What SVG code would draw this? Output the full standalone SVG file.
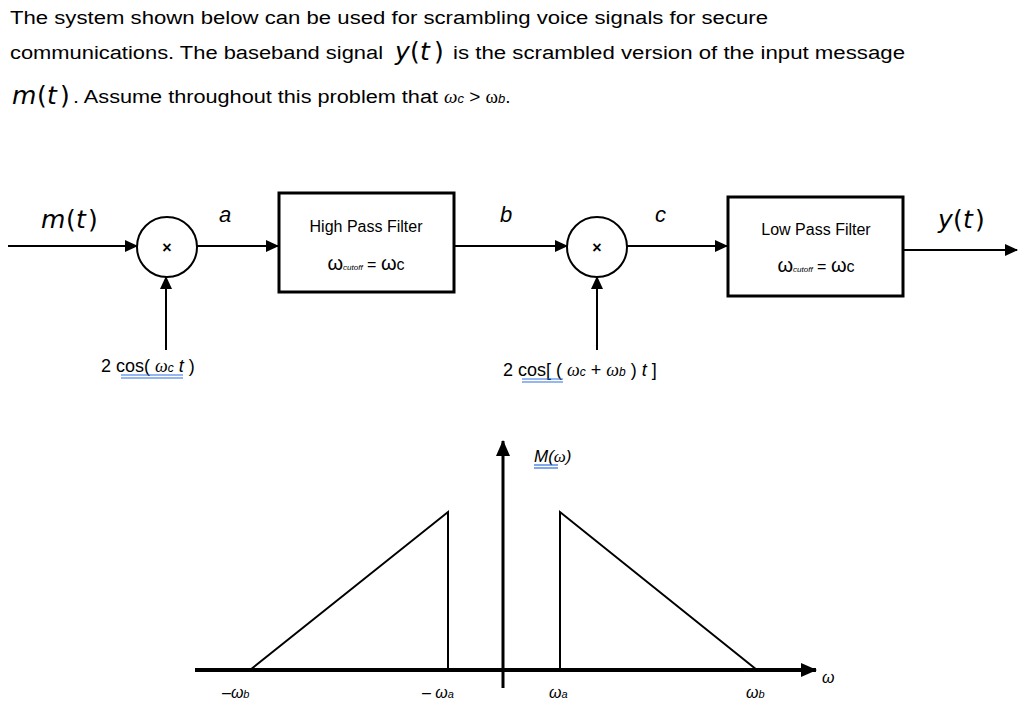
<svg xmlns="http://www.w3.org/2000/svg" width="1024" height="714" viewBox="0 0 1024 714">
<style>
.t{font-family:"Liberation Sans",Arial,sans-serif;fill:#000}
.ln{stroke:#000;stroke-width:2;fill:none}
.box{stroke:#000;stroke-width:3;fill:#fff}
.ul{stroke:#2f6fe0;stroke-width:1.2}
.mt{font-family:"DejaVu Sans","Liberation Sans",sans-serif;font-size:25px;fill:#000}
</style>
<defs><marker id="ah" markerWidth="13" markerHeight="12" refX="12" refY="6" orient="auto" markerUnits="userSpaceOnUse"><path d="M0,0 L13,6 L0,12 z"/></marker>
<marker id="ah2" markerWidth="16" markerHeight="14" refX="15" refY="7" orient="auto" markerUnits="userSpaceOnUse"><path d="M0,0 L16,7 L0,14 z"/></marker></defs>
<text class="t" x="10" y="24" font-size="18" textLength="758" lengthAdjust="spacingAndGlyphs">The system shown below can be used for scrambling voice signals for secure</text>
<text class="t" x="10" y="59" font-size="18" textLength="373" lengthAdjust="spacingAndGlyphs">communications. The baseband signal</text>
<text class="mt" x="395" y="60" font-style="italic">y</text><text class="mt" x="410" y="60">(</text><text class="mt" x="420" y="60" font-style="italic">t</text><text class="mt" x="434" y="60">)</text>
<text class="t" x="453" y="59" font-size="18" textLength="452" lengthAdjust="spacingAndGlyphs">is the scrambled version of the input message</text>
<text class="mt" x="12" y="104" font-style="italic">m</text><text class="mt" x="37" y="104">(</text><text class="mt" x="47" y="104" font-style="italic">t</text><text class="mt" x="60" y="104">)</text>
<text class="t" x="73" y="103" font-size="18" textLength="365" lengthAdjust="spacingAndGlyphs">. Assume throughout this problem that</text>
<text class="t" x="444" y="103" font-size="19"><tspan font-family="Liberation Serif" font-style="italic">ω</tspan><tspan font-size="13" font-style="italic">c</tspan> &gt; <tspan font-family="Liberation Serif">ω</tspan><tspan font-size="13" font-style="italic">b</tspan>.</text>
<g id="connectors">
<line class="ln" x1="8" y1="246" x2="137" y2="246" marker-end="url(#ah)"/>
<line class="ln" x1="197" y1="246" x2="278" y2="246" marker-end="url(#ah)"/>
<line class="ln" x1="166" y1="350" x2="166" y2="277" marker-end="url(#ah)"/>
<line class="ln" x1="454" y1="246" x2="567" y2="246" marker-end="url(#ah)"/>
<line class="ln" x1="627" y1="246" x2="727" y2="246" marker-end="url(#ah)"/>
<line class="ln" x1="597" y1="350" x2="597" y2="277" marker-end="url(#ah)"/>
<line class="ln" x1="904" y1="250" x2="1017" y2="250" marker-end="url(#ah)"/>
</g>
<g id="labels">
<text class="mt" x="41" y="228" font-style="italic">m</text><text class="mt" x="66" y="228">(</text><text class="mt" x="76" y="228" font-style="italic">t</text><text class="mt" x="88" y="228">)</text>
<text class="t" x="219" y="222" font-size="22" font-style="italic">a</text>
<text class="t" x="500" y="222" font-size="22" font-style="italic">b</text>
<text class="t" x="655" y="222" font-size="22" font-style="italic">c</text>
<text class="mt" x="938" y="228" font-style="italic">y</text><text class="mt" x="953" y="228">(</text><text class="mt" x="963" y="228" font-style="italic">t</text><text class="mt" x="975" y="228">)</text>
<text class="t" x="101" y="372" font-size="18">2 cos( <tspan font-family="Liberation Serif" font-style="italic">ω</tspan><tspan font-size="12" font-style="italic">c</tspan> <tspan font-style="italic">t</tspan> )</text>
<line class="ul" x1="121" y1="375" x2="183" y2="375"/><line class="ul" x1="121" y1="378" x2="183" y2="378"/>
<text class="t" x="503" y="376" font-size="18">2 cos[ ( <tspan font-family="Liberation Serif" font-style="italic">ω</tspan><tspan font-size="12" font-style="italic">c</tspan> + <tspan font-family="Liberation Serif" font-style="italic">ω</tspan><tspan font-size="12" font-style="italic">b</tspan> ) <tspan font-style="italic">t</tspan> ]</text>
<line class="ul" x1="522" y1="379" x2="563" y2="379"/><line class="ul" x1="522" y1="382" x2="563" y2="382"/>
</g>
<g id="mixer1"><circle cx="167" cy="247" r="30" class="ln" fill="#fff"/><text class="t" x="167" y="253" font-size="16" font-weight="bold" text-anchor="middle">×</text></g>
<g id="hpf"><rect class="box" x="279" y="193" width="175" height="99"/>
<text class="t" x="366" y="232" font-size="16" text-anchor="middle">High Pass Filter</text>
<text class="t" x="366" y="270" font-size="16" text-anchor="middle"><tspan font-size="20">ω</tspan><tspan font-size="8" font-style="italic">cutoff</tspan> = <tspan font-size="20">ω</tspan>c</text></g>
<g id="mixer2"><circle cx="597" cy="247" r="30" class="ln" fill="#fff"/><text class="t" x="597" y="253" font-size="16" font-weight="bold" text-anchor="middle">×</text></g>
<g id="lpf"><rect class="box" x="728" y="197" width="175" height="99"/>
<text class="t" x="816" y="235" font-size="16" text-anchor="middle">Low Pass Filter</text>
<text class="t" x="816" y="272" font-size="16" text-anchor="middle"><tspan font-size="20">ω</tspan><tspan font-size="8" font-style="italic">cutoff</tspan> = <tspan font-size="20">ω</tspan>c</text></g>
<g id="spectrum">
<line x1="195" y1="670" x2="816" y2="670" stroke="#000" stroke-width="4" marker-end="url(#ah2)"/>
<line x1="503" y1="688" x2="503" y2="441" stroke="#000" stroke-width="3" marker-end="url(#ah2)"/>
<polyline class="ln" points="250,670 448,512 448,670"/>
<polyline class="ln" points="560,670 560,512 757,670"/>
<text class="t" x="534" y="462" font-size="17" font-style="italic">M(<tspan font-family="Liberation Serif">ω</tspan>)</text>
<line class="ul" x1="534" y1="465" x2="558" y2="465"/><line class="ul" x1="534" y1="468" x2="558" y2="468"/>
<text class="t" x="222" y="698" font-size="16" font-family="Liberation Serif" font-style="italic">–ω<tspan font-size="11" font-family="Liberation Sans">b</tspan></text>
<text class="t" x="422" y="698" font-size="16" font-family="Liberation Serif" font-style="italic">– ω<tspan font-size="11" font-family="Liberation Sans">a</tspan></text>
<text class="t" x="549" y="698" font-size="16" font-family="Liberation Serif" font-style="italic">ω<tspan font-size="11" font-family="Liberation Sans">a</tspan></text>
<text class="t" x="746" y="698" font-size="16" font-family="Liberation Serif" font-style="italic">ω<tspan font-size="11" font-family="Liberation Sans">b</tspan></text>
<text class="t" x="822" y="683" font-size="16" font-family="Liberation Serif" font-style="italic">ω</text>
</g>
</svg>
